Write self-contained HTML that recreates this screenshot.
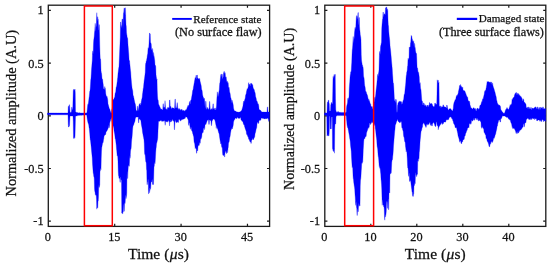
<!DOCTYPE html>
<html><head><meta charset="utf-8"><title>Signals</title>
<style>html,body{margin:0;padding:0;background:#fff}svg{display:block}text{font-family:"Liberation Serif",serif;fill:#111;stroke:#111;stroke-width:0.25px}</style></head>
<body>
<svg width="550" height="265" viewBox="0 0 550 265">
<rect width="550" height="265" fill="#fff"/>
<rect x="48.3" y="5.2" width="221.3" height="221.2" fill="none" stroke="#1a1a1a" stroke-width="1.3"/>
<path d="M114.69 226.4v-2.6M114.69 5.2v2.6M181.08 226.4v-2.6M181.08 5.2v2.6M247.47 226.4v-2.6M247.47 5.2v2.6M48.3 10.4h2.6M269.6 10.4h-2.6M48.3 63.1h2.6M269.6 63.1h-2.6M48.3 115.8h2.6M269.6 115.8h-2.6M48.3 168.5h2.6M269.6 168.5h-2.6M48.3 221.2h2.6M269.6 221.2h-2.6" stroke="#1a1a1a" stroke-width="1.2" fill="none"/>
<polygon points="47.5,113 47.75,113 48,113 48.25,113 48.5,113 48.75,113 49,113 49.25,113 49.5,113 49.75,113 50,113 50.25,113 50.5,113 50.75,113 51,113 51.25,113 51.5,113 51.75,113 52,113 52.25,113 52.5,113 52.75,113 53,113 53.25,113 53.5,113 53.75,113 54,113.1 54.25,113.1 54.5,113 54.75,113 55,113 55.25,113 55.5,113 55.75,113 56,113 56.25,113 56.5,113 56.75,113 57,113 57.25,113 57.5,113.1 57.75,113.1 58,113.1 58.25,113.1 58.5,113 58.75,113 59,113 59.25,113 59.5,113.1 59.75,113.1 60,113.1 60.25,113.1 60.5,113 60.75,113 61,113 61.25,113 61.5,113 61.75,113 62,113.1 62.25,113.1 62.5,113 62.75,113 63,113 63.25,113 63.5,113.1 63.75,113.1 64,113 64.25,113 64.5,113 64.75,113 65,113 65.25,113 65.5,113 65.75,113 66,113.1 66.25,113.1 66.5,113 66.75,113 67,113 67.25,113 67.5,113.1 67.75,113.1 68,113 68.25,106.4 68.5,106.2 68.75,106.2 69,106.2 69.25,104.7 69.5,104.7 69.75,108.3 70,112.3 70.25,112.3 70.5,112.4 70.75,112.4 71,112.3 71.25,112.3 71.5,110.9 71.75,107.2 72,107.2 72.25,109.4 72.5,109.4 72.75,109.4 73,99.7 73.25,90.9 73.5,89.5 73.75,89.5 74,89.6 74.25,89.6 74.5,90.3 74.75,90.3 75,89 75.25,92.8 75.5,112 75.75,112.1 76,112.1 76.25,112.2 76.5,112.4 76.75,112.4 77,112.5 77.25,112.6 77.5,112.6 77.75,112.7 78,112.8 78.25,112.8 78.5,112.9 78.75,112.9 79,112.8 79.25,112.8 79.5,112.8 79.75,112.8 80,112.9 80.25,112.9 80.5,112.9 80.75,112.9 81,112.9 81.25,112.9 81.5,113 81.75,113 82,112.9 82.25,112.9 82.5,113 82.75,113 83,112.9 83.25,112.9 83.5,112.9 83.75,112.9 84,113 84.25,113 84.5,112.9 84.75,113 85,112.9 85.25,112.9 85.5,113 85.75,113 86,113 86.25,113 86.5,113 86.75,113 87,111.9 87.25,109.5 87.5,107.1 87.75,104.5 88,105 88.25,103.7 88.5,102.3 88.75,100.3 89,98.1 89.25,96.4 89.5,93.7 89.75,91.2 90,90.7 90.25,88.3 90.5,84.2 90.75,79.8 91,78.2 91.25,74.1 91.5,69.4 91.75,66.6 92,63.6 92.25,60.7 92.5,54 92.75,50.9 93,54.7 93.25,51.4 93.5,43.4 93.75,39.8 94,38.2 94.25,36.2 94.5,32.5 94.75,30.5 95,26 95.25,23.3 95.5,30.8 95.75,30.6 96,26.6 96.25,26.4 96.5,19.5 96.75,12.7 97,20.4 97.25,20.4 97.5,16.8 97.75,16.8 98,19.3 98.25,19.3 98.5,29.9 98.75,30.2 99,24.4 99.25,25.2 99.5,33.9 99.75,46 100,53.4 100.25,60.3 100.5,58.8 100.75,61.7 101,70.2 101.25,72.4 101.5,73.1 101.75,75.1 102,78.6 102.25,80.6 102.5,78.8 102.75,81 103,83 103.25,84.4 103.5,88.2 103.75,89 104,89 104.25,89.8 104.5,88.6 104.75,86.5 105,88.1 105.25,88.1 105.5,90.6 105.75,93.6 106,94.9 106.25,95.7 106.5,96 106.75,96.9 107,96.4 107.25,97.6 107.5,98.6 107.75,99.9 108,104 108.25,104.6 108.5,105.6 108.75,106.4 109,107.4 109.25,108.2 109.5,109 109.75,109 110,110 110.25,110.7 110.5,111.5 110.75,112.2 111,113 111.25,113.2 111.5,111.7 111.75,109.4 112,109.5 112.25,108.2 112.5,106.9 112.75,102.2 113,100.4 113.25,99.2 113.5,99.3 113.75,100.5 114,98.5 114.25,97.6 114.5,98.3 114.75,97.1 115,94.3 115.25,92.8 115.5,93 115.75,91.6 116,88.6 116.25,86.8 116.5,86.9 116.75,85.2 117,83.1 117.25,81.4 117.5,78.8 117.75,77.2 118,73.4 118.25,71.7 118.5,69.5 118.75,67.8 119,66.4 119.25,60.8 119.5,54.7 119.75,48.8 120,43.4 120.25,37.5 120.5,22.1 120.75,22 121,27.6 121.25,27.5 121.5,25.6 121.75,25.5 122,19 122.25,18.9 122.5,19.5 122.75,19.4 123,29.9 123.25,18.2 123.5,12.8 123.75,12.8 124,7.9 124.25,7.9 124.5,8.5 124.75,8.5 125,15.1 125.25,15.1 125.5,7.7 125.75,18.6 126,24.7 126.25,26.2 126.5,32.6 126.75,34.4 127,35.7 127.25,39.6 127.5,37.6 127.75,40.1 128,45 128.25,47.5 128.5,51 128.75,53.9 129,58.7 129.25,61.9 129.5,60.5 129.75,63.4 130,65.5 130.25,68.3 130.5,70.4 130.75,72.4 131,77.1 131.25,79.7 131.5,82.7 131.75,85.3 132,87.6 132.25,89.1 132.5,89.7 132.75,91.1 133,94.4 133.25,95.8 133.5,96.1 133.75,97.5 134,98.5 134.25,100 134.5,101 134.75,102.3 135,103.6 135.25,103.7 135.5,105.1 135.75,106.5 136,109.8 136.25,110.3 136.5,110.9 136.75,110.7 137,111.5 137.25,110.4 137.5,106.2 137.75,106.2 138,109 138.25,110.9 138.5,108.7 138.75,107.2 139,105.1 139.25,104.5 139.5,103.8 139.75,104.3 140,103.7 140.25,103.1 140.5,105.6 140.75,105.1 141,104.7 141.25,101.5 141.5,100.5 141.75,99 142,98.4 142.25,97 142.5,93.9 142.75,92.4 143,90.3 143.25,88.4 143.5,87.6 143.75,84.6 144,82.2 144.25,80 144.5,78.5 144.75,76.4 145,74.4 145.25,72.3 145.5,65.1 145.75,63.1 146,62.7 146.25,60.8 146.5,61.6 146.75,58.7 147,58.3 147.25,55.8 147.5,54.6 147.75,53.4 148,48.8 148.25,47.6 148.5,49.6 148.75,47.8 149,43.5 149.25,38.8 149.5,33.1 149.75,33.1 150,34.1 150.25,34.1 150.5,42 150.75,42.9 151,43.3 151.25,44.2 151.5,48.6 151.75,49.5 152,50.5 152.25,51.7 152.5,48.4 152.75,49.7 153,55.6 153.25,57 153.5,52.4 153.75,54.1 154,55.5 154.25,57.2 154.5,58.9 154.75,60.7 155,64.9 155.25,66.5 155.5,65.3 155.75,67 156,74.5 156.25,76.6 156.5,78.1 156.75,80.3 157,78.9 157.25,90 157.5,96.1 157.75,99.3 158,99.9 158.25,100.6 158.5,103.9 158.75,104.5 159,105 159.25,105.6 159.5,106.1 159.75,106.7 160,107.2 160.25,107.8 160.5,108.3 160.75,109 161,109.5 161.25,109.5 161.5,109 161.75,109 162,109.1 162.25,109.9 162.5,109.9 162.75,109.9 163,103.8 163.25,103.8 163.5,106.4 163.75,107.4 164,107.4 164.25,107.4 164.5,107 164.75,107 165,100.7 165.25,104.4 165.5,106.7 165.75,109.1 166,108.8 166.25,109 166.5,109.2 166.75,109.4 167,109.5 167.25,109.4 167.5,107.7 167.75,107.5 168,107.4 168.25,107.8 168.5,107.7 168.75,107.5 169,107.8 169.25,107.7 169.5,100.3 169.75,100.3 170,99.9 170.25,107.5 170.5,106.2 170.75,106.5 171,106.8 171.25,108.2 171.5,108.5 171.75,108.7 172,107.9 172.25,107.8 172.5,107.7 172.75,108.1 173,108 173.25,107.9 173.5,108.3 173.75,108.2 174,108.1 174.25,109 174.5,108.9 174.75,105 175,99.1 175.25,99.1 175.5,105.3 175.75,107.9 176,107.9 176.25,107.9 176.5,107.8 176.75,106.8 177,103.8 177.25,102.6 177.5,105.3 177.75,108.1 178,108.4 178.25,108.5 178.5,108.7 178.75,109.4 179,109.6 179.25,109.7 179.5,108.6 179.75,108.7 180,108.9 180.25,110.1 180.5,110.2 180.75,110.2 181,109.5 181.25,109.6 181.5,109.6 181.75,109.5 182,109.6 182.25,109.7 182.5,110.7 182.75,110.8 183,110.9 183.25,110.3 183.5,110.4 183.75,110.5 184,110.3 184.25,110.8 184.5,111.1 184.75,111.2 185,111.1 185.25,110.4 185.5,110.1 185.75,109.8 186,109.5 186.25,109.8 186.5,109.5 186.75,109.2 187,107.8 187.25,107.4 187.5,107 187.75,105.9 188,105.5 188.25,105 188.5,106.4 188.75,105.9 189,105.2 189.25,103 189.5,102.1 189.75,101.3 190,104.3 190.25,103.7 190.5,101 190.75,100.3 191,100.2 191.25,99.5 191.5,98 191.75,96.4 192,95.2 192.25,93.7 192.5,91.5 192.75,90.2 193,89.8 193.25,88.7 193.5,86.8 193.75,85.6 194,84 194.25,82.8 194.5,81.1 194.75,80 195,78.2 195.25,77.5 195.5,78.4 195.75,77.8 196,75.7 196.25,75.1 196.5,79 196.75,79 197,75 197.25,75 197.5,78.1 197.75,78.1 198,78.4 198.25,78.9 198.5,78.5 198.75,79 199,79 199.25,79.5 199.5,78.2 199.75,78.8 200,80.7 200.25,81.9 200.5,82.7 200.75,84 201,84.8 201.25,86.1 201.5,88.7 201.75,89.9 202,90.3 202.25,91.5 202.5,94.3 202.75,95.4 203,96.5 203.25,97.6 203.5,97.4 203.75,98.6 204,99.5 204.25,98.1 204.5,99.6 204.75,101.8 205,106.9 205.25,108.4 205.5,105.2 205.75,101.3 206,101.3 206.25,106.6 206.5,109.1 206.75,109.2 207,109.3 207.25,107.5 207.5,107.6 207.75,107.7 208,109.2 208.25,109.3 208.5,109.4 208.75,108.7 209,108.7 209.25,107.3 209.5,101.5 209.75,101.5 210,104.9 210.25,109.7 210.5,109.7 210.75,109.7 211,108.8 211.25,108.8 211.5,108.8 211.75,109.5 212,109.5 212.25,109.5 212.5,108.3 212.75,107.2 213,103.7 213.25,103.9 213.5,108.4 213.75,108.4 214,109.6 214.25,109.6 214.5,109.6 214.75,108.1 215,108.1 215.25,108.1 215.5,110 215.75,110 216,110 216.25,108.1 216.5,105.9 216.75,100.6 217,96 217.25,91.8 217.5,92.7 217.75,96 218,97 218.25,95.6 218.5,94 218.75,92.6 219,91.3 219.25,90 219.5,86 219.75,83.1 220,82.5 220.25,79.8 220.5,77.3 220.75,75.1 221,74.2 221.25,74 221.5,75.9 221.75,76.9 222,74 222.25,75 222.5,79.5 222.75,78.6 223,77.6 223.25,76.7 223.5,73.3 223.75,72.4 224,71.4 224.25,71.4 224.5,73.4 224.75,73.4 225,72.6 225.25,73.5 225.5,76.7 225.75,77.6 226,76.7 226.25,77.6 226.5,80.1 226.75,80.9 227,82.6 227.25,83.4 227.5,81.3 227.75,82.1 228,82.3 228.25,83.2 228.5,86.9 228.75,87.7 229,87.2 229.25,88.4 229.5,91.2 229.75,92.5 230,92.9 230.25,94.2 230.5,96.5 230.75,97.8 231,98.2 231.25,99.5 231.5,100.4 231.75,103.6 232,100.1 232.25,101.2 232.5,102.2 232.75,102.8 233,103.9 233.25,105 233.5,108 233.75,108.9 234,109.7 234.25,110.6 234.5,110.8 234.75,110.9 235,110.9 235.25,111.1 235.5,111.1 235.75,111.3 236,111.4 236.25,111.6 236.5,111.7 236.75,111.9 237,111.9 237.25,111.9 237.5,112 237.75,112 238,112.1 238.25,112.1 238.5,112.2 238.75,112.2 239,112 239.25,112 239.5,112 239.75,112 240,112 240.25,111.7 240.5,111.6 240.75,111.3 241,111 241.25,110.9 241.5,110.6 241.75,110.1 242,109.6 242.25,108.6 242.5,107.7 242.75,106.8 243,105.8 243.25,103.3 243.5,102.2 243.75,101.1 244,102.1 244.25,101.2 244.5,100.5 244.75,99.6 245,99 245.25,97.9 245.5,95.7 245.75,94.6 246,94.4 246.25,93.3 246.5,91.5 246.75,90.4 247,89.3 247.25,88.6 247.5,89.4 247.75,88.7 248,87.5 248.25,86.8 248.5,83.2 248.75,82.6 249,85.2 249.25,85.1 249.5,84 249.75,84.1 250,86.1 250.25,86.1 250.5,83.4 250.75,83.5 251,83.7 251.25,83.8 251.5,83.2 251.75,83.3 252,84.7 252.25,85.1 252.5,84.4 252.75,84.9 253,87.3 253.25,87.7 253.5,88.8 253.75,89.2 254,89.3 254.25,89.7 254.5,91 254.75,92.2 255,92.3 255.25,93.5 255.5,96.1 255.75,97.3 256,97.6 256.25,98.8 256.5,100.5 256.75,101.2 257,100.9 257.25,101.8 257.5,102.6 257.75,103.4 258,104.3 258.25,103.8 258.5,104.7 258.75,105.7 259,108.8 259.25,109.5 259.5,110.1 259.75,109.8 260,110 260.25,110.3 260.5,110 260.75,110.8 261,111.3 261.25,111.5 261.5,111.6 261.75,111.8 262,112.1 262.25,112.1 262.5,112 262.75,112 263,112 263.25,112 263.5,112 263.75,112 264,112 264.25,112 264.5,112.1 264.75,112.1 265,112 265.25,112 265.5,112.1 265.75,112.1 266,111.9 266.25,111.9 266.5,112.1 266.75,112.1 267,111.9 267.25,107.7 267.5,106.9 267.75,106.9 268,111.9 268.25,111.9 268.5,112 268.75,112 269,111.9 269.25,111.9 269.5,112.1 269.5,119.2 269.25,120.2 269,120.9 268.75,121.5 268.5,119.6 268.25,119.6 268,118 267.75,118.3 267.5,118.3 267.25,118.3 267,118.4 266.75,118.4 266.5,118.4 266.25,118.9 266,118.9 265.75,118.9 265.5,118.6 265.25,118.6 265,118.6 264.75,119 264.5,119 264.25,119 264,118.3 263.75,118.3 263.5,118.3 263.25,118.7 263,118.7 262.75,118.7 262.5,118.1 262.25,118.1 262,118.1 261.75,118.1 261.5,118.1 261.25,118.3 261,119.5 260.75,119.9 260.5,120.4 260.25,119.8 260,120.2 259.75,120.5 259.5,120.1 259.25,120.5 259,120.8 258.75,122.9 258.5,123.3 258.25,123.7 258,122 257.75,122.3 257.5,122.6 257.25,123.1 257,123.9 256.75,127.2 256.5,128.3 256.25,128.8 256,129.8 255.75,131.3 255.5,132.4 255.25,132.9 255,134 254.75,136.5 254.5,137.4 254.25,137.5 254,137.9 253.75,139 253.5,139.4 253.25,139.6 253,140 252.75,138.2 252.5,138.5 252.25,139.3 252,139.7 251.75,140.2 251.5,140.5 251.25,143.1 251,143.6 250.75,142.1 250.5,142.1 250.25,141.8 250,141.8 249.75,141.2 249.5,140.5 249.25,139.8 249,139.1 248.75,139.3 248.5,138.6 248.25,137.2 248,136.5 247.75,136.5 247.5,135.8 247.25,135 247,134.3 246.75,134.6 246.5,133.9 246.25,131.5 246,130.9 245.75,130.1 245.5,129.4 245.25,128.8 245,128.1 244.75,127.1 244.5,126.4 244.25,125.1 244,124.5 243.75,124.8 243.5,124.1 243.25,123.4 243,122.2 242.75,121.5 242.5,120.9 242.25,121.6 242,120.8 241.75,120.3 241.5,120.5 241.25,120.2 241,119.8 240.75,117.9 240.5,117.6 240.25,117.3 240,118.3 239.75,118.3 239.5,118.3 239.25,118.2 239,118.2 238.75,118.2 238.5,118.2 238.25,118.2 238,118.2 237.75,117.2 237.5,117.2 237.25,117.2 237,118.3 236.75,118.6 236.5,118.9 236.25,117.8 236,118 235.75,118.2 235.5,118.1 235.25,118.3 235,118.5 234.75,119.5 234.5,119.7 234.25,120 234,120.5 233.75,121.3 233.5,122.2 233.25,125.1 233,126.2 232.75,127.2 232.5,128 232.25,129 232,128 231.75,128.5 231.5,129.4 231.25,129.1 231,130.4 230.75,131.9 230.5,133.3 230.25,135.4 230,136.8 229.75,137.5 229.5,138.9 229.25,141.1 229,142.3 228.75,142.3 228.5,143.5 228.25,147.3 228,148.6 227.75,151.4 227.5,152.8 227.25,149.9 227,150.2 226.75,153.3 226.5,153.7 226.25,152.3 226,152.6 225.75,150.8 225.5,151.1 225.25,152.5 225,152.8 224.75,156.8 224.5,157.1 224.25,154.5 224,154.8 223.75,155.2 223.5,155.4 223.25,155.4 223,155.4 222.75,154.7 222.5,152.5 222.25,148 222,146.9 221.75,147.3 221.5,146.1 221.25,143.9 221,142.7 220.75,144 220.5,142.6 220.25,141.3 220,139.9 219.75,138.2 219.5,136.8 219.25,134.5 219,133.2 218.75,133.1 218.5,132 218.25,131.2 218,130.2 217.75,128.3 217.5,127.3 217.25,129.3 217,128.1 216.75,126.2 216.5,125 216.25,128.3 216,125.6 215.75,124.2 215.5,122.8 215.25,121.7 215,120.2 214.75,120.2 214.5,119.3 214.25,119.3 214,119.3 213.75,119 213.5,119 213.25,119 213,119.7 212.75,119.7 212.5,119.7 212.25,120.9 212,120.9 211.75,123.9 211.5,125.8 211.25,124.7 211,121.5 210.75,120.4 210.5,120.4 210.25,120.4 210,120 209.75,120 209.5,120 209.25,123.7 209,124.6 208.75,123.7 208.5,119.8 208.25,119.8 208,119.8 207.75,120.2 207.5,120.2 207.25,120.2 207,121.2 206.75,121.9 206.5,122.5 206.25,123.4 206,124.1 205.75,124.7 205.5,123.6 205.25,124.4 205,125.3 204.75,128.6 204.5,129.7 204.25,127 204,127.8 203.75,128.3 203.5,129.1 203.25,131.7 203,132.6 202.75,132 202.5,132.9 202.25,133 202,133.9 201.75,136.8 201.5,137.8 201.25,138.2 201,139.2 200.75,138.5 200.5,139.5 200.25,142.4 200,143.4 199.75,141.9 199.5,142.8 199.25,145 199,145.6 198.75,144.8 198.5,145.4 198.25,145.9 198,146.5 197.75,150.3 197.5,151 197.25,150.4 197,151 196.75,153.2 196.5,153.2 196.25,149.3 196,148.6 195.75,148.1 195.5,147.2 195.25,148.7 195,147.1 194.75,144.3 194.5,142.8 194.25,142.8 194,141.2 193.75,137.2 193.5,135.8 193.25,135.7 193,134.2 192.75,133.7 192.5,132.5 192.25,131.5 192,130.9 191.75,130.7 191.5,130 191.25,127.7 191,127.1 190.75,126.8 190.5,129.3 190.25,128.6 190,127.9 189.75,123.4 189.5,122.9 189.25,122.4 189,125.6 188.75,124.9 188.5,124.1 188.25,120.1 188,119.6 187.75,119 187.5,118.5 187.25,117.9 187,117.3 186.75,117.1 186.5,117 186.25,117 186,116.8 185.75,116.8 185.5,116.9 185.25,118.3 185,118.4 184.75,118.5 184.5,118.6 184.25,118.8 184,119 183.75,119 183.5,119.1 183.25,119.3 183,119.3 182.75,119.4 182.5,119.6 182.25,119.2 182,119.3 181.75,119.5 181.5,120 181.25,120.2 181,120.3 180.75,120.8 180.5,121 180.25,121.1 180,119.5 179.75,119.7 179.5,119.8 179.25,119.3 179,119.4 178.75,119.5 178.5,122.2 178.25,122.4 178,122.5 177.75,121.7 177.5,121.8 177.25,121.9 177,122.5 176.75,122.6 176.5,122.7 176.25,121.9 176,122 175.75,122.1 175.5,120.4 175.25,120.5 175,120.5 174.75,125.4 174.5,129.9 174.25,128.6 174,121.3 173.75,121.3 173.5,121.3 173.25,120.5 173,120.5 172.75,120.5 172.5,119.6 172.25,119.6 172,119.6 171.75,121.2 171.5,121.2 171.25,121.2 171,122 170.75,122 170.5,122 170.25,119.7 170,121.1 169.75,122.6 169.5,125.9 169.25,121.4 169,121.4 168.75,120.5 168.5,120.5 168.25,120.5 168,122.1 167.75,122.1 167.5,122.1 167.25,120.9 167,120.9 166.75,120.9 166.5,121.9 166.25,121.9 166,121.9 165.75,121 165.5,121 165.25,125.3 165,124.1 164.75,121.2 164.5,120.2 164.25,120.8 164,120.8 163.75,120.8 163.5,121.2 163.25,121.2 163,121.2 162.75,121.2 162.5,121.2 162.25,121.2 162,121.2 161.75,121.2 161.5,121.2 161.25,120.3 161,120.3 160.75,120.3 160.5,120.8 160.25,120.8 160,120.8 159.75,121.1 159.5,121.3 159.25,121.6 159,121.1 158.75,121.3 158.5,121.5 158.25,126.4 158,131 157.75,137.7 157.5,140 157.25,140.8 157,142.2 156.75,142.8 156.5,144.1 156.25,147.3 156,148.7 155.75,151.9 155.5,156.6 155.25,160.9 155,163.8 154.75,162.4 154.5,162.6 154.25,166.4 154,166.6 153.75,176.1 153.5,184.8 153.25,183.6 153,183.7 152.75,184.4 152.5,184.5 152.25,179.4 152,179.4 151.75,181.9 151.5,182 151.25,181.8 151,182.5 150.75,187.5 150.5,189.1 150.25,188.8 150,190.4 149.75,191.2 149.5,192.8 149.25,187.9 149,187.9 148.75,193.8 148.5,193.8 148.25,180.8 148,178.5 147.75,182 147.5,181.9 147.25,184.6 147,184.6 146.75,170.8 146.5,169.2 146.25,163.3 146,161.8 145.75,161.7 145.5,159.3 145.25,156 145,153.8 144.75,154.4 144.5,151.9 144.25,143.8 144,139.7 143.75,138.7 143.5,137.1 143.25,136.2 143,134.6 142.75,133.6 142.5,132 142.25,129.5 142,127.9 141.75,126.7 141.5,125.4 141.25,124.1 141,121.5 140.75,120.4 140.5,119.5 140.25,119.9 140,119.5 139.75,119.1 139.5,119.3 139.25,118.9 139,118.4 138.75,122.8 138.5,122.8 138.25,116.9 138,116.9 137.75,117.1 137.5,117.1 137.25,117 137,117 136.75,117.1 136.5,117.1 136.25,116.9 136,116.9 135.75,117.6 135.5,118.2 135.25,118.8 135,120.9 134.75,121.7 134.5,122.6 134.25,122.6 134,123.7 133.75,124.8 133.5,124.7 133.25,125.7 133,126.2 132.75,128.1 132.5,130.8 132.25,134.8 132,137.7 131.75,139.3 131.5,142 131.25,146.9 131,149.2 130.75,149.2 130.5,151.4 130.25,156 130,158.3 129.75,155.1 129.5,161.9 129.25,166.2 129,166.3 128.75,165.2 128.5,165.3 128.25,166.9 128,171 127.75,178.4 127.5,178.5 127.25,171.6 127,171.7 126.75,193.1 126.5,195.9 126.25,197.1 126,198.7 125.75,194.5 125.5,196.2 125.25,201.8 125,203.5 124.75,202.6 124.5,204.3 124.25,210.9 124,211.4 123.75,204.2 123.5,204.7 123.25,211.7 123,212.3 122.75,213.8 122.5,213.8 122.25,212.9 122,211.8 121.75,213.2 121.5,180.7 121.25,179.7 121,179.7 120.75,177.1 120.5,177.1 120.25,182.3 120,182.3 119.75,178.1 119.5,178.1 119.25,178.4 119,178.4 118.75,175.7 118.5,175.7 118.25,171.4 118,161.6 117.75,157.1 117.5,155.1 117.25,156 117,153.9 116.75,150.8 116.5,148.7 116.25,145.3 116,143.3 115.75,141.2 115.5,139.1 115.25,139.1 115,136.9 114.75,134.7 114.5,133.2 114.25,132.1 114,130.5 113.75,127.9 113.5,126.9 113.25,126.3 113,125.4 112.75,124.6 112.5,124.4 112.25,123.5 112,122.5 111.75,119.9 111.5,118.5 111.25,117 111,118.4 110.75,119.6 110.5,120.8 110.25,121 110,122.1 109.75,123 109.5,125.8 109.25,126.9 109,128.1 108.75,124.5 108.5,126.8 108.25,127.9 108,128.4 107.75,129.2 107.5,129.7 107.25,130.2 107,130.7 106.75,131 106.5,131.5 106.25,131.8 106,132.3 105.75,134 105.5,134.8 105.25,134.2 105,134.9 104.75,134.7 104.5,135.4 104.25,136 104,136.6 103.75,139 103.5,139.7 103.25,141.7 103,142.7 102.75,142.4 102.5,143.8 102.25,145.1 102,146.5 101.75,147.6 101.5,151.3 101.25,158.3 101,169.7 100.75,168.2 100.5,168.4 100.25,171.1 100,171.2 99.75,185.4 99.5,185.5 99.25,187.3 99,187.5 98.75,184 98.5,196.5 98.25,201 98,201 97.75,208 97.5,208 97.25,207 97,207 96.75,209.2 96.5,199.4 96.25,195.4 96,195 95.75,195.3 95.5,195 95.25,194.2 95,191.7 94.75,191.4 94.5,188.3 94.25,179 94,176.3 93.75,176.6 93.5,173.7 93.25,173.6 93,170.4 92.75,167 92.5,163.8 92.25,157.9 92,155.4 91.75,153.1 91.5,150.6 91.25,147.7 91,145.2 90.75,143 90.5,140.5 90.25,139.9 90,137.2 89.75,133.8 89.5,131.2 89.25,128.5 89,127.4 88.75,125.1 88.5,124.1 88.25,123.4 88,122.7 87.75,121.7 87.5,120.4 87.25,119 87,117.1 86.75,115 86.5,115 86.25,115 86,115 85.75,115 85.5,115 85.25,115.1 85,115.1 84.75,115.1 84.5,115.1 84.25,115.1 84,115.2 83.75,115.1 83.5,115.1 83.25,115.2 83,115.2 82.75,115.1 82.5,115.1 82.25,115.2 82,115.2 81.75,115.3 81.5,115.3 81.25,115.3 81,115.3 80.75,115.2 80.5,115.2 80.25,115.3 80,115.3 79.75,115.3 79.5,115.4 79.25,115.2 79,115.3 78.75,115.4 78.5,115.4 78.25,115.3 78,115.3 77.75,115.5 77.5,115.6 77.25,115.8 77,115.9 76.75,115.8 76.5,115.9 76.25,116 76,116.1 75.75,116.3 75.5,116.4 75.25,127 75,137.5 74.75,138.3 74.5,138.3 74.25,136.7 74,136.7 73.75,138.4 73.5,138.4 73.25,121.6 73,115.9 72.75,116 72.5,116 72.25,116 72,116 71.75,116 71.5,116 71.25,115.9 71,115.9 70.75,116 70.5,116 70.25,115.9 70,115.9 69.75,120.9 69.5,125.8 69.25,125.8 69,127 68.75,127 68.5,127 68.25,124.3 68,114.8 67.75,114.8 67.5,114.8 67.25,114.8 67,114.8 66.75,114.8 66.5,114.8 66.25,114.8 66,114.8 65.75,114.8 65.5,114.8 65.25,114.8 65,114.8 64.75,114.8 64.5,114.8 64.25,114.8 64,114.8 63.75,114.8 63.5,114.8 63.25,114.8 63,114.8 62.75,114.8 62.5,114.8 62.25,114.8 62,114.8 61.75,114.8 61.5,114.8 61.25,114.8 61,114.8 60.75,114.8 60.5,114.8 60.25,114.8 60,114.8 59.75,114.8 59.5,114.8 59.25,114.8 59,114.8 58.75,114.8 58.5,114.8 58.25,114.8 58,114.8 57.75,114.8 57.5,114.8 57.25,114.8 57,114.8 56.75,114.8 56.5,114.8 56.25,114.8 56,114.8 55.75,114.8 55.5,114.8 55.25,114.8 55,114.8 54.75,114.8 54.5,114.8 54.25,114.8 54,114.8 53.75,114.8 53.5,114.8 53.25,114.8 53,114.8 52.75,114.8 52.5,114.8 52.25,114.8 52,114.8 51.75,114.8 51.5,114.8 51.25,114.8 51,114.8 50.75,114.8 50.5,114.8 50.25,114.8 50,114.8 49.75,114.8 49.5,114.8 49.25,114.8 49,114.8 48.75,114.8 48.5,114.8 48.25,114.8 48,114.8 47.75,114.8 47.5,114.8" fill="#0000ff" stroke="#0000ff" stroke-width="0.3" stroke-linejoin="round"/>
<rect x="84.4" y="6" width="27.9" height="219.7" fill="none" stroke="#ff0000" stroke-width="1.5"/>
<text transform="translate(47.9,241.3) scale(0.96,1)" font-size="12.8" text-anchor="middle">0</text>
<text transform="translate(114.29,241.3) scale(0.96,1)" font-size="12.8" text-anchor="middle">15</text>
<text transform="translate(180.68,241.3) scale(0.96,1)" font-size="12.8" text-anchor="middle">30</text>
<text transform="translate(247.07,241.3) scale(0.96,1)" font-size="12.8" text-anchor="middle">45</text>
<text transform="translate(43.6,14.3) scale(0.96,1)" font-size="12.8" text-anchor="end">1</text>
<text transform="translate(43.6,67.5) scale(0.96,1)" font-size="12.8" text-anchor="end">0.5</text>
<text transform="translate(43.6,120.2) scale(0.96,1)" font-size="12.8" text-anchor="end">0</text>
<text transform="translate(43.6,172.9) scale(0.96,1)" font-size="12.8" text-anchor="end">-0.5</text>
<text transform="translate(43.6,224.8) scale(0.96,1)" font-size="12.8" text-anchor="end">-1</text>
<text transform="translate(158.5,259.4) scale(1.03,1)" font-size="15.1" text-anchor="middle">Time (<tspan font-style="italic" dx="0.3">μ</tspan><tspan dx="0.3">s)</tspan></text>
<text transform="translate(16.3,113.2) scale(1.08,1) rotate(-90)" font-size="14.4" text-anchor="middle">Normalized amplitude (A.U)</text>
<path d="M172.2 18.9H191.8" stroke="#0000ff" stroke-width="1.9"/>
<text transform="translate(193.3,22.6) scale(1,1)" font-size="11.1">Reference state</text>
<text transform="translate(261.6,36.1) scale(1.06,1)" font-size="11.6038" text-anchor="end">(No surface flaw)</text>
<rect x="324.8" y="5.2" width="221" height="221.2" fill="none" stroke="#1a1a1a" stroke-width="1.3"/>
<path d="M370.8 226.4v-2.6M370.8 5.2v2.6M416.8 226.4v-2.6M416.8 5.2v2.6M462.8 226.4v-2.6M462.8 5.2v2.6M508.8 226.4v-2.6M508.8 5.2v2.6M324.8 10.4h2.6M545.8 10.4h-2.6M324.8 63.1h2.6M545.8 63.1h-2.6M324.8 115.8h2.6M545.8 115.8h-2.6M324.8 168.5h2.6M545.8 168.5h-2.6M324.8 221.2h2.6M545.8 221.2h-2.6" stroke="#1a1a1a" stroke-width="1.2" fill="none"/>
<polygon points="324.5,112.9 324.75,112.9 325,112.8 325.25,112.8 325.5,112.9 325.75,112.9 326,112.9 326.25,112.9 326.5,112.9 326.75,112.9 327,112.9 327.25,104.1 327.5,102 327.75,102 328,102 328.25,100.2 328.5,100.2 328.75,100.2 329,103.6 329.25,103.6 329.5,111.1 329.75,111.1 330,111.1 330.25,111.1 330.5,110.9 330.75,104.8 331,104.8 331.25,102.6 331.5,102.6 331.75,102.6 332,103.7 332.25,103.7 332.5,103.7 332.75,91.8 333,76.5 333.25,76.5 333.5,78.3 333.75,78.3 334,74.5 334.25,74.5 334.5,76.6 334.75,76.6 335,74.4 335.25,74.4 335.5,98.8 335.75,109.6 336,110.9 336.25,111.6 336.5,112.2 336.75,112.2 337,112.3 337.25,112.3 337.5,112.3 337.75,111.8 338,111.3 338.25,111.6 338.5,111.9 338.75,112.2 339,112.3 339.25,112.3 339.5,112.3 339.75,112.4 340,112.3 340.25,112.3 340.5,112.4 340.75,112.4 341,112.4 341.25,112.4 341.5,112.4 341.75,112.4 342,112.4 342.25,112.4 342.5,112.5 342.75,112.5 343,112.5 343.25,112.5 343.5,112.4 343.75,112.5 344,112.6 344.25,112.6 344.5,112.6 344.75,112.7 345,112.6 345.25,112.6 345.5,112.7 345.75,112.7 346,112.6 346.25,112 346.5,107.9 346.75,105.8 347,105 347.25,103.9 347.5,102.7 347.75,99.6 348,98.1 348.25,100.5 348.5,98.8 348.75,97.6 349,97.3 349.25,88.5 349.5,84.6 349.75,82.1 350,77.6 350.25,75 350.5,73.9 350.75,71.7 351,72.5 351.25,70.6 351.5,65.9 351.75,62.3 352,54.7 352.25,50 352.5,48.3 352.75,44.9 353,39.8 353.25,36.5 353.5,43.7 353.75,41.7 354,39.2 354.25,36.9 354.5,32.6 354.75,30.3 355,27.4 355.25,27.4 355.5,29.2 355.75,29.1 356,22.1 356.25,18.1 356.5,15.7 356.75,15.7 357,18.7 357.25,18.7 357.5,16.5 357.75,16.5 358,12.6 358.25,12.6 358.5,24.5 358.75,24.5 359,17.6 359.25,17.6 359.5,26.4 359.75,29.8 360,31.2 360.25,34.7 360.5,35.9 360.75,37.3 361,40 361.25,54.7 361.5,60.1 361.75,62 362,63.3 362.25,65.3 362.5,65 362.75,67 363,66.8 363.25,68.9 363.5,75.2 363.75,77.5 364,77.4 364.25,79.9 364.5,83.7 364.75,86.1 365,86.6 365.25,88.1 365.5,90.8 365.75,91.5 366,91.4 366.25,92.1 366.5,93.1 366.75,93.9 367,94.3 367.25,95.1 367.5,95.6 367.75,96.7 368,98.3 368.25,99.6 368.5,101.4 368.75,98.8 369,99.7 369.25,100.6 369.5,101.1 369.75,102.1 370,103 370.25,103.6 370.5,104 370.75,104.3 371,106.5 371.25,106.8 371.5,107.1 371.75,106.2 372,106.5 372.25,106.8 372.5,108.7 372.75,108.7 373,108.7 373.25,107.2 373.5,105.4 373.75,103.1 374,102.5 374.25,101.3 374.5,99.2 374.75,97.3 375,99.5 375.25,97 375.5,96.2 375.75,93.9 376,91.1 376.25,89 376.5,87 376.75,84.9 377,81.7 377.25,79.5 377.5,75.7 377.75,74.2 378,76.8 378.25,75.8 378.5,73.1 378.75,72.2 379,69.8 379.25,60.2 379.5,53.1 379.75,51.3 380,54.8 380.25,53.1 380.5,47.1 380.75,45.4 381,44.8 381.25,43.2 381.5,42.2 381.75,28.6 382,24.9 382.25,22.2 382.5,19.2 382.75,18.7 383,12.5 383.25,12 383.5,16.9 383.75,16.4 384,14.6 384.25,14 384.5,14.2 384.75,13.6 385,15 385.25,14.4 385.5,8.1 385.75,8.1 386,7.3 386.25,7.3 386.5,6.9 386.75,7.6 387,10.4 387.25,11.1 387.5,8.8 387.75,10.5 388,20 388.25,24.9 388.5,25.9 388.75,31 389,34 389.25,36.6 389.5,38.3 389.75,40.9 390,45.2 390.25,47.8 390.5,49.6 390.75,52 391,55 391.25,57.4 391.5,61 391.75,63.4 392,66.2 392.25,68.7 392.5,73.6 392.75,76.8 393,80.7 393.25,83.8 393.5,83.3 393.75,86.8 394,91.6 394.25,96.7 394.5,100.6 394.75,100.9 395,100.4 395.25,102.3 395.5,102.6 395.75,99.1 396,99.5 396.25,100 396.5,103.2 396.75,111.2 397,112.7 397.25,111.2 397.5,105.2 397.75,105.2 398,102.7 398.25,102.7 398.5,102.7 398.75,101.7 399,101.7 399.25,101.7 399.5,101.2 399.75,101.2 400,101.2 400.25,101.5 400.5,101.5 400.75,101.5 401,101.7 401.25,101.7 401.5,101.7 401.75,104.2 402,104.2 402.25,103.7 402.5,102.4 402.75,101.9 403,100.9 403.25,100.3 403.5,99.9 403.75,98.4 404,95.8 404.25,94.2 404.5,94.5 404.75,93 405,90.1 405.25,87.4 405.5,85.4 405.75,82.8 406,78.6 406.25,75.8 406.5,74.8 406.75,72.1 407,71.5 407.25,70.1 407.5,66.3 407.75,65.5 408,58.3 408.25,58.2 408.5,59.6 408.75,59.5 409,59.5 409.25,47 409.5,47.4 409.75,47.3 410,47.3 410.25,47.1 410.5,42.7 410.75,42.5 411,37.7 411.25,35.4 411.5,36 411.75,36 412,38.6 412.25,38.8 412.5,40.3 412.75,41 413,41.8 413.25,42.6 413.5,40.7 413.75,41.6 414,46.9 414.25,47.9 414.5,43.3 414.75,44.4 415,46.9 415.25,47.9 415.5,51 415.75,51.8 416,53.6 416.25,54.4 416.5,53.2 416.75,58.2 417,66.1 417.25,68.8 417.5,67.9 417.75,69.4 418,72.5 418.25,74 418.5,71.8 418.75,73.4 419,75.2 419.25,76.9 419.5,82.7 419.75,84.2 420,82.4 420.25,84 420.5,87.7 420.75,89.3 421,89.7 421.25,93.2 421.5,96.4 421.75,99.9 422,101.1 422.25,101.3 422.5,101.4 422.75,104.9 423,105 423.25,105.1 423.5,102.9 423.75,103 424,103.1 424.25,104.1 424.5,104.8 424.75,105.5 425,106.4 425.25,105.5 425.5,104.7 425.75,106.1 426,105.5 426.25,105.8 426.5,106.6 426.75,107 427,107.3 427.25,105 427.5,105.5 427.75,105 428,107 428.25,106.7 428.5,106.3 428.75,105.3 429,104.9 429.25,105.2 429.5,102.4 429.75,102.8 430,103.2 430.25,103.7 430.5,104.1 430.75,103.8 431,103.7 431.25,103.4 431.5,103.1 431.75,104.2 432,103.9 432.25,104.3 432.5,105.3 432.75,105.7 433,106.1 433.25,106.5 433.5,106.9 433.75,106.6 434,106.7 434.25,106.4 434.5,106.1 434.75,103.3 435,102.9 435.25,103.1 435.5,104 435.75,104.2 436,104.4 436.25,104 436.5,104.3 436.75,104.5 437,93 437.25,79.8 437.5,81.2 437.75,81.2 438,80.3 438.25,80.3 438.5,83.1 438.75,83.1 439,82.4 439.25,106.2 439.5,106.3 439.75,106.4 440,105.8 440.25,105.9 440.5,106 440.75,107.4 441,107.5 441.25,107.4 441.5,106.8 441.75,106.7 442,106.6 442.25,107.1 442.5,106.9 442.75,106.8 443,104.7 443.25,104.9 443.5,105.1 443.75,106.5 444,106.6 444.25,106.8 444.5,106.7 444.75,106.9 445,107.1 445.25,107.1 445.5,107.1 445.75,107 446,108 446.25,108 446.5,107.9 446.75,105.1 447,105 447.25,106 447.5,107.5 447.75,108.5 448,109.5 448.25,110.2 448.5,110.1 448.75,110 449,108.9 449.25,108.8 449.5,108.7 449.75,109.1 450,109 450.25,109.1 450.5,108.6 450.75,108.8 451,108.9 451.25,109.9 451.5,110 451.75,110.1 452,110.8 452.25,110.9 452.5,111 452.75,110.4 453,109.4 453.25,108.4 453.5,105.2 453.75,103.9 454,102.6 454.25,102.2 454.5,101.4 454.75,100.7 455,100.2 455.25,99.5 455.5,100 455.75,99.3 456,97.4 456.25,96.6 456.5,96.1 456.75,95.4 457,96 457.25,95.3 457.5,94.9 457.75,94.2 458,93.7 458.25,92.9 458.5,91.1 458.75,90.3 459,88.9 459.25,88.1 459.5,85.9 459.75,85.2 460,86.6 460.25,86.3 460.5,84.5 460.75,84.7 461,86.1 461.25,86.2 461.5,86.7 461.75,86.9 462,88 462.25,88.3 462.5,86.9 462.75,87.2 463,89.8 463.25,90.1 463.5,90.4 463.75,90.7 464,90.5 464.25,90.8 464.5,90.7 464.75,91.1 465,91.6 465.25,92.1 465.5,93 465.75,93.4 466,94.1 466.25,94.9 466.5,95.4 466.75,96.2 467,96.5 467.25,97.3 467.5,96.9 467.75,97.8 468,99.8 468.25,100.6 468.5,100.9 468.75,101.1 469,101.8 469.25,101 469.5,101.7 469.75,102.5 470,104.8 470.25,105.4 470.5,106 470.75,107.2 471,107.8 471.25,107.9 471.5,108.1 471.75,108.3 472,108.5 472.25,108.9 472.5,109.1 472.75,109.3 473,107.9 473.25,107.8 473.5,107.8 473.75,108 474,108 474.25,107.9 474.5,108.9 474.75,108.9 475,108.8 475.25,108.5 475.5,108.5 475.75,109.7 476,110.9 476.25,110.9 476.5,110.4 476.75,108.8 477,108.6 477.25,108.6 477.5,108.2 477.75,108.2 478,108.1 478.25,109.2 478.5,109.2 478.75,109.2 479,108.6 479.25,108.6 479.5,108.5 479.75,106.1 480,105.5 480.25,105 480.5,105.3 480.75,104.8 481,104.3 481.25,103.2 481.5,102.4 481.75,101.5 482,102.7 482.25,100.5 482.5,99.6 482.75,98.7 483,99.2 483.25,98.4 483.5,97.1 483.75,96.3 484,95.1 484.25,94.3 484.5,92.1 484.75,91.2 485,90.9 485.25,90.1 485.5,91.4 485.75,90.6 486,88.5 486.25,87.7 486.5,85.9 486.75,84.7 487,82.2 487.25,81.3 487.5,82.2 487.75,82.1 488,82.1 488.25,82 488.5,81.6 488.75,81.6 489,82.2 489.25,82.4 489.5,82 489.75,82.2 490,81.8 490.25,82 490.5,82.4 490.75,82.3 491,83.8 491.25,83.7 491.5,82 491.75,81.9 492,85.3 492.25,85.2 492.5,83 492.75,83.9 493,85.8 493.25,86.7 493.5,87.4 493.75,88.3 494,88.8 494.25,89.7 494.5,90.7 494.75,91.6 495,92.3 495.25,93.3 495.5,94.5 495.75,95.6 496,96.2 496.25,97.2 496.5,99.4 496.75,100.4 497,101.2 497.25,102.7 497.5,103.6 497.75,103.6 498,104.7 498.25,105.5 498.5,104.5 498.75,104.7 499,105 499.25,105 499.5,105.3 499.75,105.5 500,105.6 500.25,106 500.5,106.7 500.75,109.2 501,109.7 501.25,110.3 501.5,110.6 501.75,111.1 502,111.5 502.25,111.8 502.5,111.9 502.75,112.3 503,112.7 503.25,113 503.5,113.2 503.75,113.2 504,113.2 504.25,113.2 504.5,113.2 504.75,112.6 505,111.8 505.25,110.9 505.5,110 505.75,109.6 506,109.5 506.25,109.1 506.5,108.7 506.75,107.9 507,107.5 507.25,107.9 507.5,108.5 507.75,108.9 508,109.2 508.25,109.1 508.5,109.5 508.75,109.7 509,108.5 509.25,107.7 509.5,107 509.75,106.2 510,105.3 510.25,104.5 510.5,105.9 510.75,105.3 511,104.6 511.25,104.5 511.5,103.9 511.75,103.3 512,99.5 512.25,100.1 512.5,99.2 512.75,98.4 513,98.2 513.25,97.5 513.5,97.7 513.75,97.3 514,97 514.25,96.6 514.5,94.9 514.75,94.5 515,93.7 515.25,93.2 515.5,93 515.75,92.7 516,94.5 516.25,94.7 516.5,92.5 516.75,92.6 517,92.9 517.25,93.1 517.5,94.6 517.75,94.7 518,93.4 518.25,93.6 518.5,94.1 518.75,94.2 519,95.7 519.25,95.8 519.5,94.7 519.75,94.9 520,95.7 520.25,95.9 520.5,96.2 520.75,96.7 521,96.5 521.25,97 521.5,97.5 521.75,98 522,98.6 522.25,99.1 522.5,100.7 522.75,101.2 523,100.2 523.25,98.7 523.5,99.3 523.75,99.9 524,101.8 524.25,102.2 524.5,102.7 524.75,102.3 525,102.8 525.25,103.3 525.5,103.6 525.75,104.1 526,104.6 526.25,107.4 526.5,107.8 526.75,108.2 527,107.2 527.25,107.2 527.5,107.3 527.75,108.6 528,108.6 528.25,108.7 528.5,106.9 528.75,107 529,107 529.25,107.3 529.5,108.8 529.75,108.5 530,109 530.25,109 530.5,109.1 530.75,107.4 531,107.4 531.25,107.5 531.5,109.4 531.75,109.4 532,109.4 532.25,108.1 532.5,108.1 532.75,108.1 533,108.4 533.25,108.5 533.5,108.5 533.75,108.2 534,108.2 534.25,108.1 534.5,107.6 534.75,107.5 535,107.4 535.25,107 535.5,106.9 535.75,106.7 536,107.6 536.25,107.7 536.5,107.7 536.75,109 537,109 537.25,109 537.5,106.9 537.75,106.9 538,107 538.25,109.2 538.5,109.3 538.75,109.3 539,107.5 539.25,107.6 539.5,107.6 539.75,109.3 540,109.4 540.25,109.3 540.5,107.4 540.75,107.3 541,107.2 541.25,107.9 541.5,107.8 541.75,107.8 542,108.6 542.25,108.5 542.5,108.5 542.75,106.9 543,106.9 543.25,106.9 543.5,108.8 543.75,108.8 544,108.8 544.25,108.7 544.5,108.8 544.75,108.8 545,108.5 545.25,108.6 545.5,108.6 545.75,108.4 545.75,121.4 545.5,121.1 545.25,121.1 545,121.1 544.75,120.7 544.5,120.7 544.25,120.7 544,121.5 543.75,121.5 543.5,121.5 543.25,120.1 543,120.1 542.75,120.1 542.5,119.5 542.25,119.5 542,119.5 541.75,121.5 541.5,121.5 541.25,121.5 541,120.2 540.75,120.2 540.5,120.2 540.25,121.2 540,121.2 539.75,121.2 539.5,120.1 539.25,120.1 539,120.1 538.75,119.9 538.5,119.9 538.25,119.9 538,120.2 537.75,120.2 537.5,120.2 537.25,120.9 537,120.9 536.75,120.7 536.5,119 536.25,118.8 536,118.6 535.75,119 535.5,118.8 535.25,118.6 535,119.4 534.75,119.4 534.5,119.4 534.25,117.9 534,117.9 533.75,117.9 533.5,119 533.25,119 533,119 532.75,118.1 532.5,118.1 532.25,118.1 532,119.5 531.75,119.5 531.5,119.5 531.25,118.5 531,118.5 530.75,118.5 530.5,119.6 530.25,119.6 530,119.6 529.75,119.4 529.5,119.4 529.25,119.4 529,119.3 528.75,119.3 528.5,119.3 528.25,118.3 528,118.3 527.75,118.6 527.5,118.2 527.25,118.5 527,118.7 526.75,119.3 526.5,119.6 526.25,119.8 526,122.3 525.75,122.7 525.5,123.1 525.25,122.4 525,122.9 524.75,123.6 524.5,125.7 524.25,126.5 524,127.2 523.75,123.5 523.5,124 523.25,124.5 523,126.8 522.75,126.9 522.5,127.2 522.25,128.1 522,128.3 521.75,128.8 521.5,129 521.25,129.4 521,129.7 520.75,129.8 520.5,130 520.25,130.1 520,130.3 519.75,131.3 519.5,131.6 519.25,130.3 519,130.5 518.75,132.4 518.5,132.7 518.25,133 518,133.2 517.75,131.5 517.5,131.7 517.25,133.4 517,133.5 516.75,132 516.5,132 516.25,133.6 516,133.4 515.75,131.7 515.5,131.3 515.25,130.4 515,130 514.75,129.4 514.5,129 514.25,128.6 514,128.2 513.75,128.5 513.5,128 513.25,128.4 513,127.7 512.75,125.5 512.5,128.5 512.25,127.6 512,126.7 511.75,124.7 511.5,123.9 511.25,123.1 511,122.9 510.75,122.1 510.5,121.2 510.25,119.9 510,119.8 509.75,119.6 509.5,119.8 509.25,119.6 509,119.4 508.75,118.9 508.5,118.8 508.25,118.6 508,117.8 507.75,117.6 507.5,117.5 507.25,117.1 507,117 506.75,116.8 506.5,117.6 506.25,117.1 506,116.9 505.75,116.7 505.5,116.5 505.25,116.4 505,116.3 504.75,116.1 504.5,116 504.25,116 504,116 503.75,116.1 503.5,116.1 503.25,115.9 503,115.8 502.75,115.9 502.5,115.8 502.25,116.5 502,117.1 501.75,118 501.5,118.6 501.25,118 501,118.5 500.75,119 500.5,122 500.25,122 500,122.1 499.75,120 499.5,120 499.25,120.1 499,119.6 498.75,120.4 498.5,121.1 498.25,122.3 498,123 497.75,123.8 497.5,125.9 497.25,126.1 497,126.9 496.75,129 496.5,130 496.25,131 496,132.1 495.75,133.6 495.5,134.6 495.25,134.6 495,135.6 494.75,136.7 494.5,137.3 494.25,138 494,138.5 493.75,137.9 493.5,138.3 493.25,140.2 493,140.7 492.75,141.6 492.5,142.1 492.25,142.3 492,142.8 491.75,141.6 491.5,142 491.25,141.2 491,141.6 490.75,143.9 490.5,144.3 490.25,143.3 490,143.7 489.75,146.7 489.5,146.7 489.25,146.6 489,146.6 488.75,144.8 488.5,144 488.25,142.9 488,142.1 487.75,142.2 487.5,141.4 487.25,141.3 487,140.5 486.75,138.7 486.5,137.9 486.25,138.8 486,138 485.75,135.1 485.5,134.4 485.25,134.7 485,134 484.75,133.2 484.5,132.5 484.25,132.8 484,132.1 483.75,129.3 483.5,128.6 483.25,128.5 483,127.9 482.75,127.8 482.5,127.2 482.25,126.8 482,126.2 481.75,128.4 481.5,127.6 481.25,126.9 481,122.5 480.75,121.9 480.5,121.4 480.25,121.1 480,120.6 479.75,120.1 479.5,120.8 479.25,119.8 479,119.9 478.75,121.1 478.5,121.1 478.25,120.5 478,118.4 477.75,118.4 477.5,118.4 477.25,119.9 477,119.9 476.75,119.9 476.5,118.6 476.25,118.6 476,118.6 475.75,118.1 475.5,118.1 475.25,118.1 475,119.9 474.75,120.1 474.5,120.3 474.25,118.3 474,118.4 473.75,118.5 473.5,120 473.25,120.1 473,120.2 472.75,120.9 472.5,121 472.25,121.2 472,120 471.75,120.2 471.5,120.7 471.25,123.2 471,123.8 470.75,124.4 470.5,122.9 470.25,123.4 470,123.8 469.75,123.3 469.5,123.8 469.25,124.2 469,127.4 468.75,128 468.5,126.7 468.25,127.3 468,127.8 467.75,128.1 467.5,128.6 467.25,129.8 467,130.6 466.75,130.6 466.5,131.3 466.25,132.2 466,132.9 465.75,133.2 465.5,133.9 465.25,135.4 465,136.1 464.75,136.1 464.5,136.8 464.25,139 464,139.5 463.75,139.5 463.5,140 463.25,139.2 463,139.7 462.75,141.4 462.5,141.9 462.25,141.5 462,141.9 461.75,143.3 461.5,143.8 461.25,143.4 461,143.4 460.75,141.3 460.5,141.3 460.25,141.1 460,140.4 459.75,142.3 459.5,141.3 459.25,139.8 459,138.8 458.75,138.1 458.5,137.1 458.25,136.5 458,135.5 457.75,133.4 457.5,132.4 457.25,131.3 457,130.4 456.75,128.7 456.5,127.8 456.25,127.7 456,127.2 455.75,127.8 455.5,128 455.25,127.4 455,126.8 454.75,125.3 454.5,124.7 454.25,124.2 454,124.2 453.75,123.6 453.5,123.1 453.25,121.5 453,121 452.75,120.5 452.5,119.3 452.25,118.9 452,118.4 451.75,118.5 451.5,118 451.25,117.5 451,116.7 450.75,117.1 450.5,117.1 450.25,116.8 450,117 449.75,117.1 449.5,117.6 449.25,117.8 449,118 448.75,119.4 448.5,119.6 448.25,119.8 448,119.3 447.75,119.5 447.5,119.7 447.25,119.9 447,120.1 446.75,120.3 446.5,119.6 446.25,119.8 446,120 445.75,121.9 445.5,122.1 445.25,122.2 445,121.8 444.75,121.9 444.5,122 444.25,121.9 444,122.1 443.75,122.2 443.5,123.4 443.25,123.6 443,123.8 442.75,123.7 442.5,124.2 442.25,124.6 442,122.5 441.75,122.8 441.5,123.1 441.25,123.6 441,124 440.75,123.7 440.5,124.9 440.25,124.6 440,124.4 439.75,126 439.5,125.7 439.25,126.5 439,126.9 438.75,127.6 438.5,128.4 438.25,129.8 438,126 437.75,126 437.5,126 437.25,125.2 437,124.3 436.75,122.6 436.5,121.7 436.25,122 436,126 435.75,126.4 435.5,126.8 435.25,125.5 435,125.8 434.75,125.5 434.5,124 434.25,123.7 434,123.3 433.75,122.5 433.5,122.2 433.25,122.7 433,122.9 432.75,123.4 432.5,124 432.25,125.9 432,125.9 431.75,125.9 431.5,124.8 431.25,124.4 431,124 430.75,125.5 430.5,125 430.25,124.6 430,121.8 429.75,122.4 429.5,123 429.25,123.3 429,123.9 428.75,124.4 428.5,124.4 428.25,124.3 428,123.6 427.75,125.3 427.5,124.5 427.25,123.7 427,123.7 426.75,124.4 426.5,125.1 426.25,126.8 426,127.5 425.75,127.1 425.5,126.2 425.25,125.8 425,125.4 424.75,124.4 424.5,124.1 424.25,124.4 424,122.6 423.75,122.9 423.5,123.2 423.25,123.4 423,123.7 422.75,124.4 422.5,127.3 422.25,127.3 422,128.1 421.75,129.6 421.5,130.4 421.25,130.9 421,131.7 420.75,134.3 420.5,137.3 420.25,139.4 420,142.4 419.75,147.6 419.5,150.7 419.25,152.5 419,159.2 418.75,158.6 418.5,158.6 418.25,161.2 418,161.3 417.75,160.2 417.5,174.4 417.25,173.9 417,174 416.75,176.5 416.5,176.6 416.25,174.2 416,175.2 415.75,172.5 415.5,173.4 415.25,181.8 415,183.9 414.75,182 414.5,185.4 414.25,185.3 414,185.9 413.75,193.8 413.5,194.4 413.25,196.1 413,196.7 412.75,195 412.5,195.6 412.25,192.1 412,192.1 411.75,189.6 411.5,188 411.25,186 411,184.1 410.75,181.8 410.5,180.1 410.25,181.1 410,179.3 409.75,181.7 409.5,180.7 409.25,173.7 409,172.7 408.75,176.4 408.5,175.4 408.25,170.9 408,168.1 407.75,168 407.5,165.1 407.25,158.5 407,154.8 406.75,150.9 406.5,149.5 406.25,152 406,150.4 405.75,147.9 405.5,146.4 405.25,142.9 405,141.5 404.75,141.8 404.5,140.4 404.25,138.3 404,136.8 403.75,136.8 403.5,135.2 403.25,131.8 403,130.4 402.75,130.3 402.5,128.8 402.25,127.7 402,128.1 401.75,126.9 401.5,122.3 401.25,121.8 401,121.3 400.75,122.4 400.5,121.8 400.25,121.6 400,122.9 399.75,122.8 399.5,122.6 399.25,122 399,121.9 398.75,121.8 398.5,121.5 398.25,121.4 398,121.3 397.75,119.4 397.5,119.5 397.25,119.7 397,121 396.75,121.2 396.5,121.4 396.25,122.7 396,123.5 395.75,124.3 395.5,124.4 395.25,125.5 395,129.3 394.75,131 394.5,133.9 394.25,136.8 394,139.7 393.75,143 393.5,145.9 393.25,151.1 393,154.2 392.75,156.2 392.5,159.4 392.25,159.9 392,160.5 391.75,162.5 391.5,167.7 391.25,172.8 391,172.9 390.75,174 390.5,174.1 390.25,172.7 390,172.8 389.75,192.7 389.5,193.1 389.25,192.5 389,192.9 388.75,209.6 388.5,209.7 388.25,199 388,199.1 387.75,208.2 387.5,208.3 387.25,201.6 387,201.8 386.75,201.1 386.5,203.4 386.25,211.6 386,214.1 385.75,215.6 385.5,217.1 385.25,215.6 385,215.6 384.75,220.2 384.5,217.5 384.25,209.2 384,206.7 383.75,207 383.5,205.2 383.25,205.3 383,204.7 382.75,200.3 382.5,199.7 382.25,205.3 382,198.8 381.75,189.1 381.5,184.5 381.25,181.1 381,179 380.75,174 380.5,172 380.25,169.5 380,167.6 379.75,168.3 379.5,166.1 379.25,166.6 379,164 378.75,160 378.5,157.5 378.25,156.4 378,154.1 377.75,150 377.5,147.8 377.25,147.2 377,144.8 376.75,140.3 376.5,138.1 376.25,136.5 376,134.3 375.75,131.8 375.5,129.6 375.25,128.6 375,124.6 374.75,123.2 374.5,125.5 374.25,124.7 374,124 373.75,123.3 373.5,122.5 373.25,122 373,122.5 372.75,122.6 372.5,122.7 372.25,121.7 372,121.7 371.75,121.7 371.5,123.1 371.25,123.2 371,123.4 370.75,123.7 370.5,124.2 370.25,124.7 370,122.7 369.75,123.1 369.5,123.5 369.25,126.9 369,127.4 368.75,128.4 368.5,127.5 368.25,126.9 368,127.9 367.75,129.3 367.5,130.2 367.25,130.8 367,131.6 366.75,132.3 366.5,133.1 366.25,135.7 366,136.6 365.75,136.3 365.5,136.9 365.25,137.2 365,137.5 364.75,138.8 364.5,139.1 364.25,138.6 364,139 363.75,141.5 363.5,145.7 363.25,149.7 363,156.8 362.75,161.7 362.5,162 362.25,163.1 362,163.4 361.75,162.4 361.5,167.8 361.25,170.9 361,176.1 360.75,179.1 360.5,179.9 360.25,186 360,205.7 359.75,204.5 359.5,204.6 359.25,206.1 359,206.2 358.75,202.6 358.5,207 358.25,210.9 358,212 357.75,209 357.5,209 357.25,215.6 357,214.5 356.75,208.3 356.5,207.3 356.25,203.1 356,201.3 355.75,205.4 355.5,202.1 355.25,197.2 355,194.6 354.75,189.5 354.5,187.2 354.25,185.9 354,183.9 353.75,182.5 353.5,179.5 353.25,178.5 353,175.5 352.75,168.7 352.5,165.9 352.25,167.6 352,165 351.75,161.1 351.5,157.1 351.25,151.7 351,149.1 350.75,147.4 350.5,145.2 350.25,141.8 350,139.7 349.75,138.8 349.5,137.1 349.25,135.3 349,133.7 348.75,132.7 348.5,131.1 348.25,129.8 348,128.2 347.75,124.2 347.5,127.8 347.25,126.4 347,125.1 346.75,121.7 346.5,119.5 346.25,116.1 346,115.5 345.75,115.5 345.5,115.5 345.25,115.5 345,115.5 344.75,115.5 344.5,115.5 344.25,115.6 344,115.6 343.75,115.5 343.5,115.5 343.25,115.5 343,115.5 342.75,115.6 342.5,115.6 342.25,115.5 342,115.5 341.75,115.5 341.5,115.5 341.25,115.5 341,115.5 340.75,115.6 340.5,115.6 340.25,115.6 340,115.6 339.75,115.6 339.5,115.6 339.25,115.5 339,115.5 338.75,115.6 338.5,115.6 338.25,115.5 338,115.5 337.75,115.6 337.5,115.6 337.25,115.6 337,115.6 336.75,115.7 336.5,115.9 336.25,116.3 336,116.5 335.75,123.8 335.5,124 335.25,124 335,124 334.75,128.9 334.5,153.2 334.25,148.9 334,148.9 333.75,151.5 333.5,151.5 333.25,150.8 333,150.8 332.75,148.7 332.5,148.7 332.25,117.1 332,117.1 331.75,117 331.5,117 331.25,128.8 331,127.9 330.75,128.9 330.5,128.9 330.25,128.9 330,116.5 329.75,116.3 329.5,116.3 329.25,131.1 329,136 328.75,136 328.5,136 328.25,134.5 328,134.5 327.75,135 327.5,135 327.25,136 327,136 326.75,115.3 326.5,115.3 326.25,115.2 326,115.2 325.75,115.3 325.5,115.3 325.25,115.2 325,115.2 324.75,115.3 324.5,115.3" fill="#0000ff" stroke="#0000ff" stroke-width="0.3" stroke-linejoin="round"/>
<rect x="344.7" y="6" width="28.9" height="219.7" fill="none" stroke="#ff0000" stroke-width="1.5"/>
<text transform="translate(324.4,241.3) scale(0.96,1)" font-size="12.8" text-anchor="middle">0</text>
<text transform="translate(370.4,241.3) scale(0.96,1)" font-size="12.8" text-anchor="middle">10</text>
<text transform="translate(416.4,241.3) scale(0.96,1)" font-size="12.8" text-anchor="middle">20</text>
<text transform="translate(462.4,241.3) scale(0.96,1)" font-size="12.8" text-anchor="middle">30</text>
<text transform="translate(508.4,241.3) scale(0.96,1)" font-size="12.8" text-anchor="middle">40</text>
<text transform="translate(320.1,14.3) scale(0.96,1)" font-size="12.8" text-anchor="end">1</text>
<text transform="translate(320.1,67.5) scale(0.96,1)" font-size="12.8" text-anchor="end">0.5</text>
<text transform="translate(320.1,120.2) scale(0.96,1)" font-size="12.8" text-anchor="end">0</text>
<text transform="translate(320.1,172.9) scale(0.96,1)" font-size="12.8" text-anchor="end">-0.5</text>
<text transform="translate(320.1,224.8) scale(0.96,1)" font-size="12.8" text-anchor="end">-1</text>
<text transform="translate(435.3,259) scale(1.03,1)" font-size="15.1" text-anchor="middle">Time (<tspan font-style="italic" dx="0.3">μ</tspan><tspan dx="0.3">s)</tspan></text>
<text transform="translate(294.4,108.9) scale(1.08,1) rotate(-90)" font-size="14" text-anchor="middle">Normalized amplitude (A.U)</text>
<path d="M456.8 18.9H477.2" stroke="#0000ff" stroke-width="2.2"/>
<text transform="translate(478.8,21.8) scale(1,1)" font-size="11.1">Damaged state</text>
<text transform="translate(543.9,35.5) scale(1.06,1)" font-size="11.6038" text-anchor="end">(Three surface flaws)</text>
</svg>
</body></html>
